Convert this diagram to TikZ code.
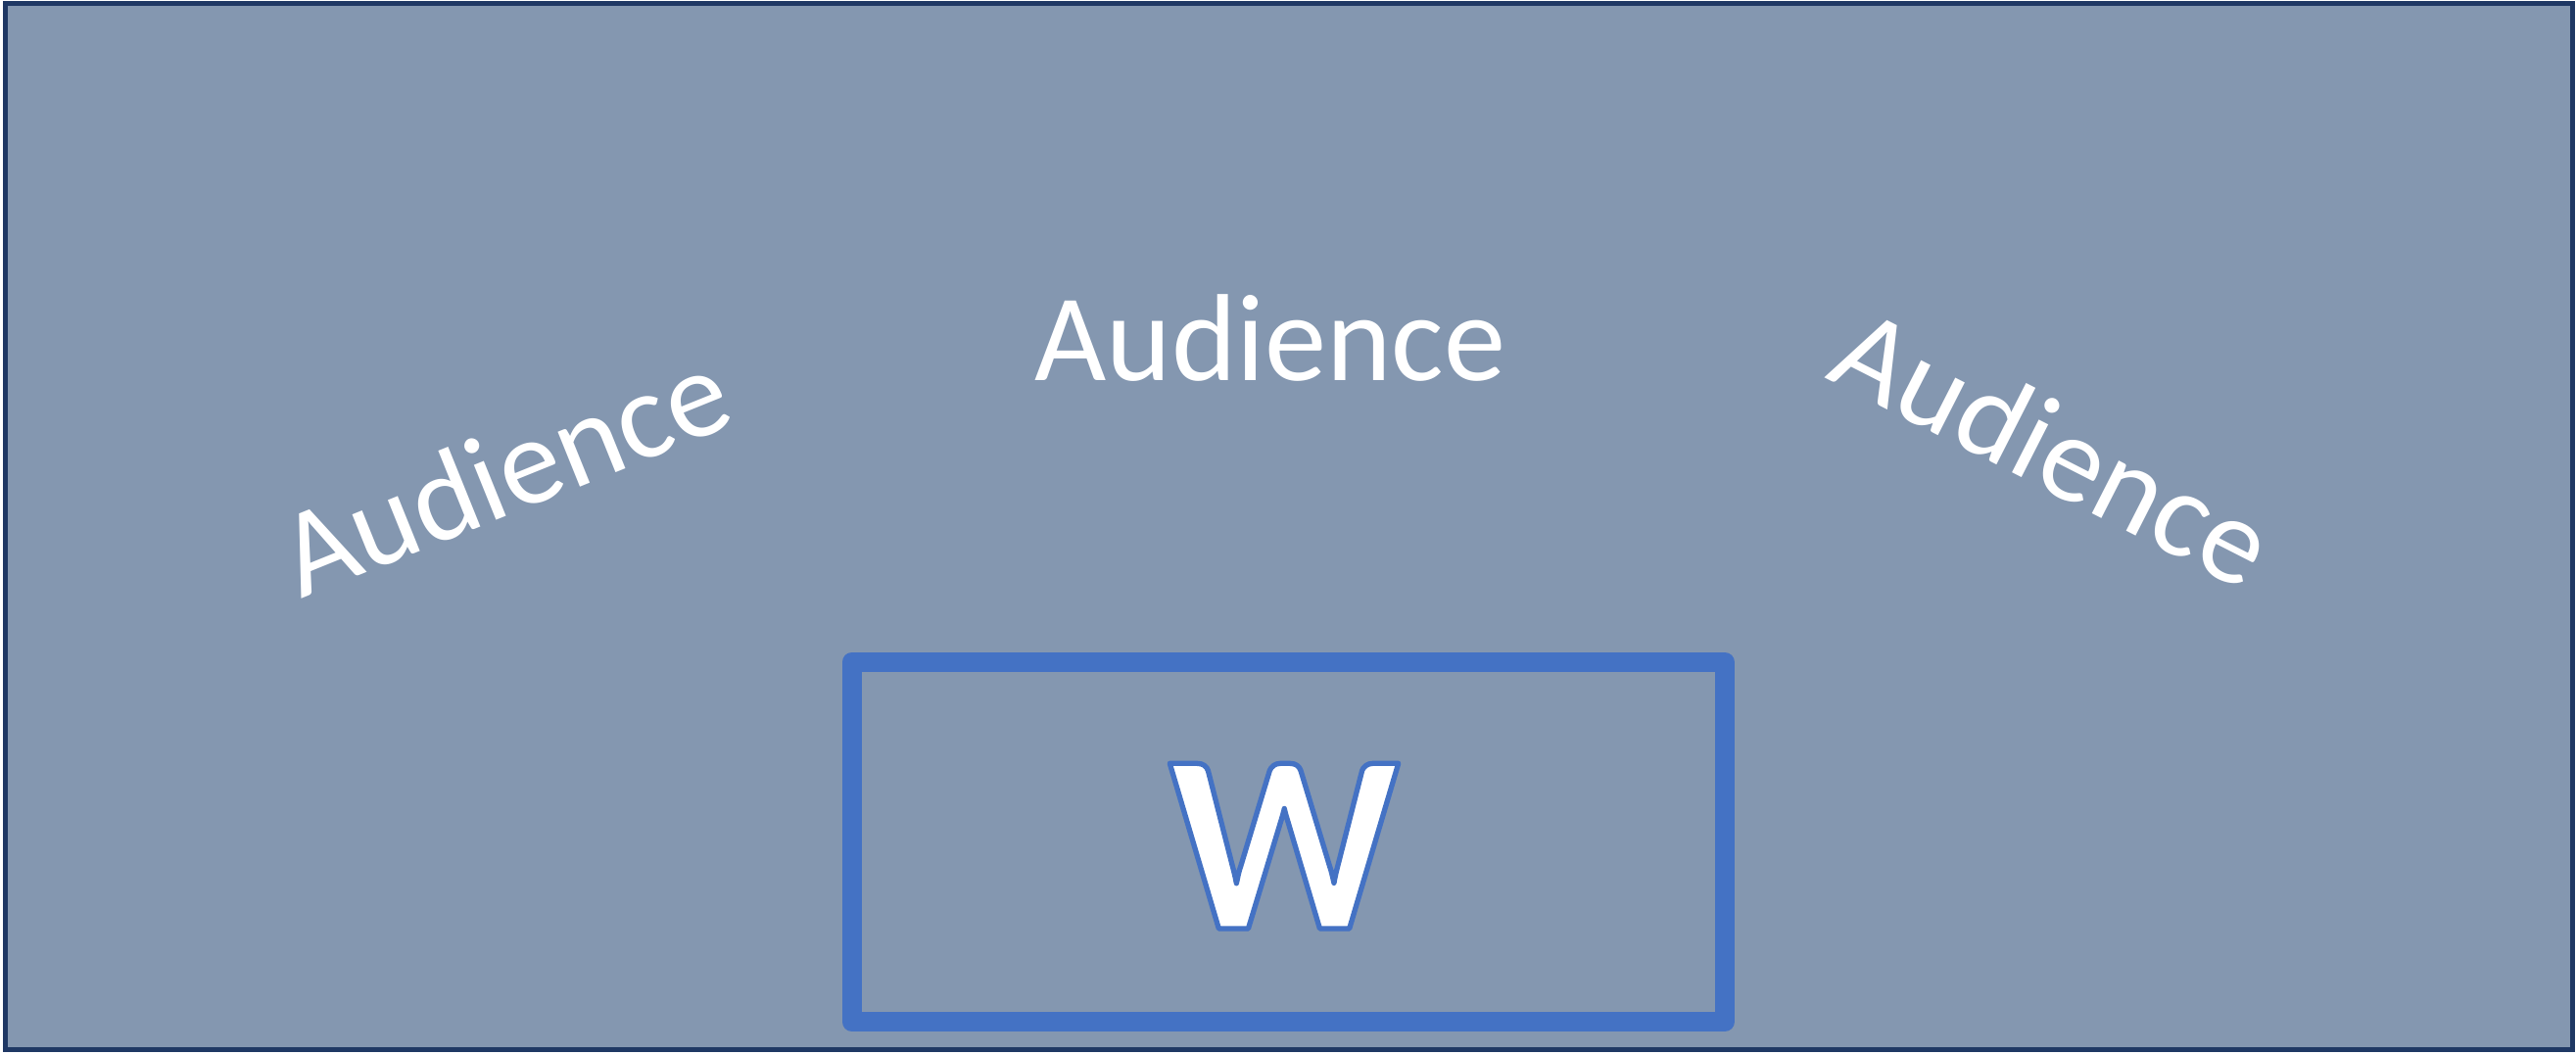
\documentclass[tikz,border=0pt]{standalone}
\usepackage{fontspec}
\setmainfont{Carlito}
\definecolor{slatefill}{HTML}{8497B0}
\definecolor{navyline}{HTML}{1F3864}
\definecolor{stageblue}{HTML}{4472C4}
\usetikzlibrary{positioning}
% white letter with a thin blue edge (fill + stroke render mode)
\newcommand{\edgedletter}[1]{\special{pdf:literal direct 2 Tr 1 j 1.5 w 0.267 0.447 0.769 RG}#1\special{pdf:literal direct 0 Tr}}

\begin{document}
\begin{tikzpicture}[
    audtext/.style={text=white,inner sep=0pt,font=\fontsize{36}{43}\selectfont},
    bigw/.style={inner sep=0pt,anchor=base,text=white,font=\fontsize{74}{86}\selectfont\bfseries}
]
            \useasboundingbox (0,0) rectangle (26.3,10.77);
            \draw[navyline,fill=slatefill,line width=0.05cm] (0.05,0.05) rectangle (26.26,10.73);
            \draw[stageblue,line width=0.2cm,line join=round] (8.695,0.34) rectangle (17.61,4.01);
            \node[audtext,anchor=base] (audmid) at (12.97,6.88) {Audience};
            \node[audtext,anchor=base west,rotate=22] (audleft) at (3.07,4.65) {Audience};
            \node[audtext,anchor=base west,rotate=-27] (audright) at (18.62,6.92) {Audience};
            \node[bigw] (stagew) at (13.11,1.29) {\edgedletter{W}};
        \end{tikzpicture}
\end{document}
